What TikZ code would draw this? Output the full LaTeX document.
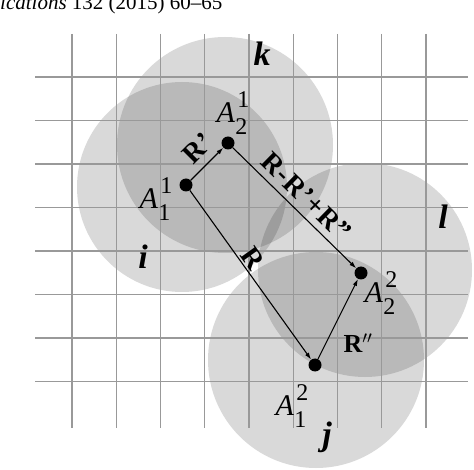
\documentclass[tikz,border=0pt]{standalone}
\usepackage{fontspec}
\setmainfont{Liberation Serif}
\usetikzlibrary{arrows.meta}
\usetikzlibrary{positioning}
\tikzset{>=latex}
\colorlet{gridcol}{black!40}
\colorlet{zonecol}{black}
\newcommand\sitelab[2]{{\itshape A}\kern0.5pt\rlap{\kern2pt\raisebox{0.5em}{\fontsize{24}{24}\selectfont #2}}\raisebox{-0.38em}{\fontsize{24}{24}\selectfont #1}}
\tikzset{
  zone/.style={fill=zonecol,fill opacity=0.15},
  gridline/.style={gridcol,line width=1.4pt},
  site/.style={circle,fill=black,inner sep=0pt,minimum size=13pt},
  hop/.style={-{Latex[length=7pt,width=4.5pt]},line width=1.1pt},
  vlabel/.style={font=\fontsize{28}{28}\selectfont\bfseries,inner sep=2pt},
  alabel/.style={font=\fontsize{30}{30}\selectfont,inner sep=0pt},
  zlabel/.style={font=\fontsize{34}{34}\selectfont\bfseries\itshape,inner sep=0pt},
}

\begin{document}
\begin{tikzpicture}[x=1pt,y=-1pt]
    \useasboundingbox (0,0) rectangle (474,470);
    % running head, cut at the top
    \node[anchor=base west,inner sep=0pt,font=\fontsize{21}{21}\selectfont] (head) at (0,10) {\textit{ications} 132 (2015) 60--65};
    % the four zones
    \fill[zone] (182,187) circle (105);
    \fill[zone] (225,145) circle (108);
    \fill[zone] (365,270) circle (107);
    \fill[zone] (316,360) circle (108);
    % grid
    \foreach \x in {0,...,8}
      \draw[gridline] ({72+44.25*\x},34) -- ({72+44.25*\x},428);
    \foreach \y in {0,...,7}
      \draw[gridline] (35,{77+43.5*\y}) -- (468,{77+43.5*\y});
    % zone names
    \node[zlabel] (i) at (143,257) {i};
    \node[zlabel] (k) at (262,54) {k};
    \node[zlabel] (l) at (443,217) {l};
    \node[zlabel] (j) at (327,437) {j};
    % sites
    \node[site] (a11) at (186,185) {};
    \node[site] (a21) at (228,143) {};
    \node[site] (a22) at (361,273) {};
    \node[site] (a12) at (315,365) {};
    \node[alabel] (a11lab) at (155,199) {\sitelab{1}{1}};
    \node[alabel] (a21lab) at (232,113) {\sitelab{2}{1}};
    \node[alabel] (a22lab) at (380,293) {\sitelab{2}{2}};
    \node[alabel] (a12lab) at (291,406) {\sitelab{1}{2}};
    % hops between sites
    \draw[hop] (a11) -- node[vlabel,sloped,above=6pt,pos=0.6] (rp) {R'} (a21);
    \draw[hop] (a11) -- node[vlabel,sloped,above=0pt,pos=0.44] (r) {R} (a12);
    \draw[hop] (a21) -- node[vlabel,sloped,above=5pt] (rdiff) {R\kern1pt-\kern1pt R'\kern1pt+\kern1pt R''} (a22);
    \draw[hop] (a12) -- (a22);
    \node[vlabel,font=\fontsize{26}{26}\selectfont\bfseries] (rpp) at (358,343) {R$''$};
\end{tikzpicture}
\end{document}
